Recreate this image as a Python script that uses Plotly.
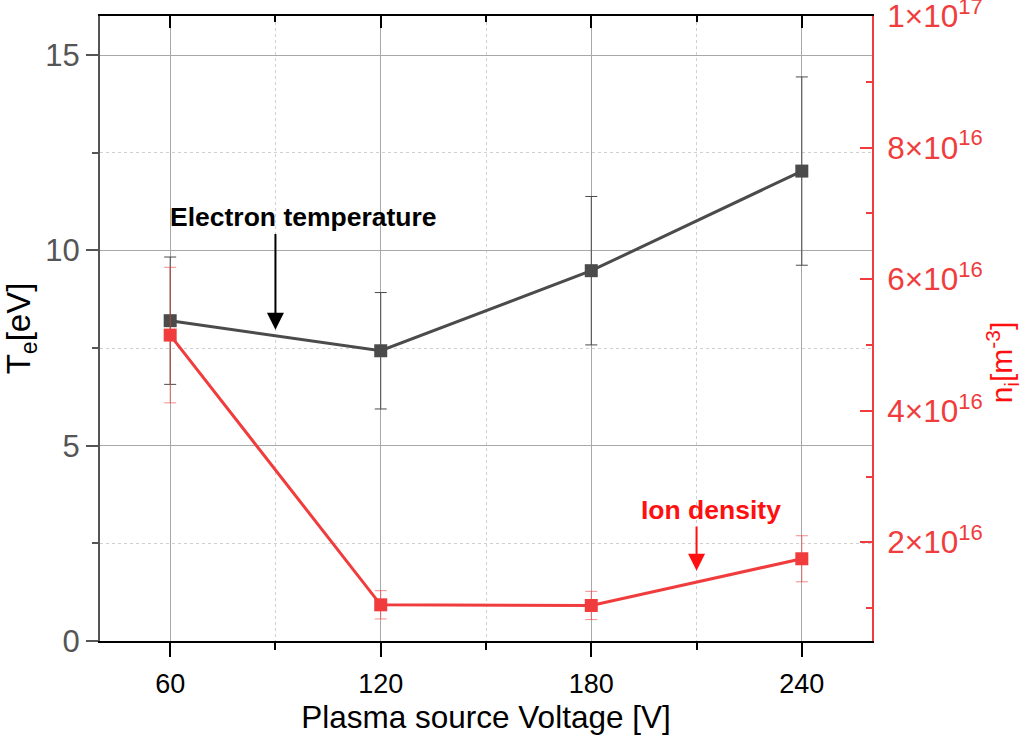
import plotly.graph_objects as go

# ---- data ----
voltage = [60, 120, 180, 240]
te_ev = [8.2, 7.43, 9.48, 12.03]
te_err = [1.63, 1.49, 1.9, 2.41]
ni_m3 = [5.15e16, 1.05e16, 1.04e16, 1.75e16]
ni_err = [1.03e16, 0.215e16, 0.215e16, 0.35e16]

x_ticks = [60, 120, 180, 240]
te_ticks = [0, 5, 10, 15]
ni_ticks = [2e16, 4e16, 6e16, 8e16, 1e17]
ni_ticktext = ["2×10<sup>16</sup>", "4×10<sup>16</sup>", "6×10<sup>16</sup>",
               "8×10<sup>16</sup>", "1×10<sup>17</sup>"]

FONT = "Liberation Sans, Arial, sans-serif"
GRAY = "#4b4b4b"
RED = "#f03c3c"
PURE_RED = "#ff1010"

fig = go.Figure()

fig.add_trace(go.Scatter(
    x=voltage, y=te_ev, mode="lines+markers", name="Te",
    line=dict(color=GRAY, width=3),
    marker=dict(symbol="square", size=13, color=GRAY),
    error_y=dict(type="data", array=te_err, color=GRAY, thickness=1, width=6),
    xaxis="x", yaxis="y", showlegend=False,
))
fig.add_trace(go.Scatter(
    x=voltage, y=ni_m3, mode="lines+markers", name="ni",
    line=dict(color=RED, width=3),
    marker=dict(symbol="square", size=13, color=RED),
    error_y=dict(type="data", array=ni_err, color="rgba(240,60,60,0.6)", thickness=1, width=6),
    xaxis="x", yaxis="y2", showlegend=False,
))
# dummy trace to render the top mirror axis
fig.add_trace(go.Scatter(x=[None], y=[None], xaxis="x2", yaxis="y",
                         showlegend=False, hoverinfo="skip"))

fig.update_layout(
    width=1025, height=740,
    margin=dict(l=100, r=153, t=16, b=99),
    paper_bgcolor="white", plot_bgcolor="white",
    font=dict(family=FONT),
    xaxis=dict(
        range=[40, 260], tickvals=x_ticks, ticks="outside", ticklen=14, tickwidth=2,
        tickcolor="black", showline=True, linecolor="black", linewidth=2,
        showgrid=True, gridcolor="#a8a8a8", gridwidth=1, zeroline=False, automargin=False,
        tickfont=dict(size=27, color="black"), ticklabelstandoff=4,
        title=dict(text="Plasma source Voltage [V]", font=dict(size=31.5, color="black"), standoff=8),
        minor=dict(tick0=0, dtick=30, ticks="outside", ticklen=7, tickwidth=2, tickcolor="black",
                   showgrid=True, gridcolor="#d0d0d0", griddash="3px,3px", gridwidth=1),
    ),
    xaxis2=dict(
        overlaying="x", side="top", anchor="y", range=[40, 260], tickvals=x_ticks,
        ticks="inside", ticklen=12, tickwidth=2, tickcolor="black", automargin=False,
        showline=True, linecolor="black", linewidth=2, showgrid=False, zeroline=False,
        showticklabels=False,
        minor=dict(tick0=0, dtick=30, ticks="inside", ticklen=6, tickwidth=2, tickcolor="black",
                   showgrid=False),
    ),
    yaxis=dict(
        range=[0, 16], tickvals=te_ticks, ticks="outside", ticklen=12, tickwidth=2,
        tickcolor="#555555", showline=True, linecolor="#555555", linewidth=2,
        showgrid=True, gridcolor="#a8a8a8", gridwidth=1, zeroline=False, automargin=False,
        tickfont=dict(size=31, color="#555555"),
        title=dict(text="T<sub>e</sub>[eV]", font=dict(size=33, color="black"), standoff=10),
        minor=dict(tick0=0, dtick=2.5, ticks="outside", ticklen=6, tickwidth=2, tickcolor="#555555",
                   showgrid=True, gridcolor="#d0d0d0", griddash="3px,3px", gridwidth=1),
    ),
    yaxis2=dict(
        overlaying="y", side="right", anchor="x", range=[5e15, 1e17], automargin=False,
        tickvals=ni_ticks, ticktext=ni_ticktext, ticks="inside", ticklen=12, tickwidth=2,
        tickcolor=RED, showline=True, linecolor=RED, linewidth=2, showgrid=False, zeroline=False,
        tickfont=dict(size=31.5, color=RED), ticklabelstandoff=7, ticklabeloverflow="allow",
        minor=dict(tick0=0, dtick=1e16, ticks="inside", ticklen=6, tickwidth=2, tickcolor=RED,
                   showgrid=False),
    ),
)

# right axis title placed as an annotation (it sits below the axis centre in the reference)
fig.add_annotation(x=1.1685, y=0.446, xref="paper", yref="paper", textangle=-90,
                   xanchor="center", yanchor="middle",
                   text="n<sub>i</sub>[m<sup>-3</sup>]", showarrow=False,
                   font=dict(size=30, color=PURE_RED, family=FONT))

fig.add_annotation(x=98, y=10.85, xref="x", yref="y", text="<b>Electron temperature</b>",
                   showarrow=False, font=dict(size=26.5, color="black", family=FONT))
fig.add_annotation(x=90, y=7.97, ax=90, ay=10.46, xref="x", yref="y", axref="x", ayref="y",
                   text="", showarrow=True, arrowhead=2, arrowsize=1.7, arrowwidth=2,
                   arrowcolor="black")
fig.add_annotation(x=214, y=3.36, xref="x", yref="y", text="<b>Ion density</b>",
                   showarrow=False, font=dict(size=26.5, color=PURE_RED, family=FONT))
fig.add_annotation(x=210, y=1.80, ax=210, ay=2.97, xref="x", yref="y", axref="x", ayref="y",
                   text="", showarrow=True, arrowhead=2, arrowsize=1.7, arrowwidth=2,
                   arrowcolor=PURE_RED)

fig.write_html("out.html")
